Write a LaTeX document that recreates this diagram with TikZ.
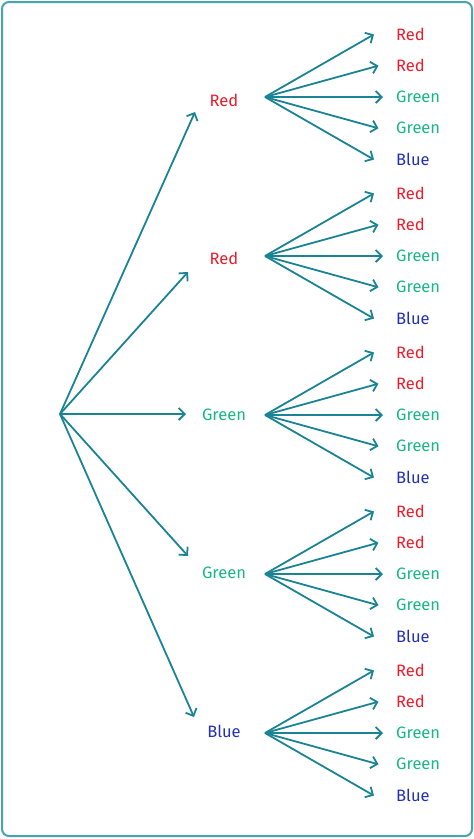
\documentclass[tikz,border=0pt]{standalone}
\usepackage{fontspec}
\setmainfont{Fira Sans}
\usetikzlibrary{arrows.meta}

\definecolor{framecol}{HTML}{4AA3B0}
\definecolor{arrowcol}{HTML}{1B8494}
\definecolor{redc}{HTML}{EC1C2A}
\definecolor{greenc}{HTML}{17B784}
\definecolor{bluec}{HTML}{2230B8}

\tikzset{
  branch/.style={draw=arrowcol, line width=1.8pt, -{Straight Barb[length=6pt,width=12pt,line width=1.8pt]}},
  firstlabel/.style={inner sep=0pt, font=\fontsize{16.5}{19}\selectfont},
  leaflabel/.style={inner sep=0pt, anchor=west, font=\fontsize{16.5}{19}\selectfont}
}

\begin{document}
\begin{tikzpicture}[x=1pt,y=-1pt]
    \useasboundingbox (0,0) rectangle (474,839);

    % draw frame
    \draw[framecol, line width=2pt, rounded corners=7pt] (2,2) rectangle (472,836);

    % draw root
    \coordinate (root) at (60,414);

    % draw first level and its leaves
    \foreach \i/\name/\col/\ly/\tx/\ty in {1/Red/redc/100/195/112,2/Red/redc/258/188/272,3/Green/greenc/415/186/414,4/Green/greenc/573/188/556,5/Blue/bluec/731/194/717} {
      \node[firstlabel, text=\col] (c\i) at (224,\ly) {\name};
      \coordinate (t\i) at (\tx,\ty);
      \draw[branch] (root) -- (t\i);
      \coordinate (s\i) at (265,{97+159*(\i-1)});
      \foreach \j/\lname/\lcol in {1/Red/redc,2/Red/redc,3/Green/greenc,4/Green/greenc,5/Blue/bluec} {
        \node[leaflabel, text=\lcol] (l\i\j) at (396,{97+159*(\i-1)+31.3*(\j-3)}) {\lname};
        \draw[branch] (s\i) -- ([xshift={-(13+4.5*abs(\j-3))*1pt}]l\i\j.west);
      }
    }

\end{tikzpicture}
\end{document}
